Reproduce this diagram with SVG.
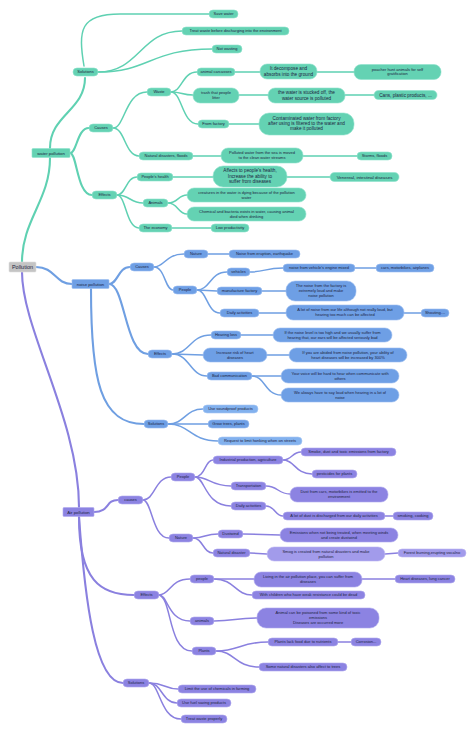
<svg xmlns="http://www.w3.org/2000/svg" width="474" height="735" viewBox="0 0 474 735">
<style>
text{font-family:"Liberation Sans",Arial,sans-serif;font-size:4px;fill:#1c2340;text-anchor:middle}
.w rect{fill:#64d2b3;stroke:#8fe3cc;stroke-width:0.6}
.n rect{fill:#6e9fe5;stroke:#9cbdf0;stroke-width:0.6}
.nl rect{fill:#82b1ee;stroke:#a8c8f3;stroke-width:0.6}
.a rect{fill:#8c83e2;stroke:#b0a9ef;stroke-width:0.6}
.al rect{fill:#a29beb;stroke:#bdb7f2;stroke-width:0.6}
.r rect{fill:#c4c4c4;stroke:#dddddd;stroke-width:0.6}
.big{font-size:4.7px}
#connectors path{fill:none;stroke-linecap:round}
.cw{stroke:#5fd1b2;stroke-width:1.5}
.cn{stroke:#6f9fe2;stroke-width:1.5}
.ca{stroke:#8a80df;stroke-width:1.5}
.t{stroke-width:2.1 !important}
</style>
<rect width="474" height="735" fill="#ffffff"/>
<g id="connectors">
<path class="cw t" d="M22,262 C22,220 50,200 50,158"/>
<path class="cn t" d="M36,267 C55,267 55,284 72,284"/>
<path class="ca t" d="M22,272 C22,330 79,420 79,507"/>
<path class="cw t" d="M70,153 C77,153 77,128 89,128"/>
<path class="cw t" d="M70,153 C77,153 77,195 92,195"/>
<path class="cw t" d="M50,148 C50,115 85,110 85,78"/>
<path class="cw" d="M84,66 C78,30 80,14 120,14 L209,14"/>
<path class="cw" d="M98,72 C140,72 140,31 182,31"/>
<path class="cw" d="M98,72 C150,72 150,49 212,49"/>
<path class="cw" d="M113,128 C125,128 125,92 147,92"/>
<path class="cw" d="M113,128 C125,128 125,156 139,156"/>
<path class="cw" d="M171,92 C182,92 182,72 197,72"/>
<path class="cw" d="M171,92 C182,92 182,95 193,95"/>
<path class="cw" d="M171,92 C182,92 182,124 198,124"/>
<path class="cw" d="M235,72 L260,72"/>
<path class="cw" d="M317,72 L354,72"/>
<path class="cw" d="M239,95 L268,95"/>
<path class="cw" d="M345,95 L374,95"/>
<path class="cw" d="M229,124 L259,124"/>
<path class="cw" d="M193,156 L221,156"/>
<path class="cw" d="M303,156 L357,156"/>
<path class="cw" d="M117,195 C126,195 126,177 137,177"/>
<path class="cw" d="M117,195 C130,195 130,203 143,203"/>
<path class="cw" d="M117,195 C126,195 126,228 139,228"/>
<path class="cw" d="M173,177 L213,177"/>
<path class="cw" d="M287,177 L330,177"/>
<path class="cw" d="M168,203 C178,203 178,195 187,195"/>
<path class="cw" d="M168,203 C178,203 178,214 187,214"/>
<path class="cw" d="M172,228 L211,228"/>
<path class="cn t" d="M109,284 C118,284 118,267 130,267"/>
<path class="cn t" d="M109,284 C125,284 125,354 148,354"/>
<path class="cn t" d="M91,289 C91,380 100,424 144,424"/>
<path class="cn" d="M154,267 C165,267 165,254 184,254"/>
<path class="cn" d="M154,267 C165,267 165,290 173,290"/>
<path class="cn" d="M208,254 L229,254"/>
<path class="cn" d="M197,290 C210,290 210,272 227,272"/>
<path class="cn" d="M197,290 L217,291"/>
<path class="cn" d="M197,290 C207,290 207,313 220,313"/>
<path class="cn" d="M250,272 C265,272 265,268 283,268"/>
<path class="cn" d="M355,268 L376,268"/>
<path class="cn" d="M262,291 L286,291"/>
<path class="cn" d="M259,313 L286,313"/>
<path class="cn" d="M404,313 L421,313"/>
<path class="cn" d="M172,354 C190,354 190,335 211,335"/>
<path class="cn" d="M172,354 L203,355"/>
<path class="cn" d="M172,354 C190,354 190,376 207,376"/>
<path class="cn" d="M241,335 L273,335"/>
<path class="cn" d="M267,355 L289,355"/>
<path class="cn" d="M252,376 L281,376"/>
<path class="cn" d="M252,376 C265,376 265,395 281,395"/>
<path class="cn" d="M168,424 C185,424 185,409 203,409"/>
<path class="cn" d="M168,424 L208,424"/>
<path class="cn" d="M168,424 C190,424 190,441 218,441"/>
<path class="ca t" d="M94,512 C110,512 105,500 118,500"/>
<path class="ca t" d="M79,517 C79,580 100,595 134,595"/>
<path class="ca t" d="M79,517 C85,600 95,683 123,683"/>
<path class="ca" d="M143,500 C155,500 155,477 171,477"/>
<path class="ca" d="M143,500 C152,500 152,538 169,538"/>
<path class="ca" d="M195,477 C205,477 205,460 213,460"/>
<path class="ca" d="M195,477 C210,477 210,486 231,486"/>
<path class="ca" d="M195,477 C205,477 205,506 231,506"/>
<path class="ca" d="M283,460 C292,460 292,452 301,452"/>
<path class="ca" d="M283,460 C295,460 295,474 312,474"/>
<path class="ca" d="M266,486 C278,486 278,494 290,494"/>
<path class="ca" d="M266,506 C275,506 275,516 283,516"/>
<path class="ca" d="M385,516 L393,516"/>
<path class="ca" d="M193,538 C205,538 205,534 218,534"/>
<path class="ca" d="M193,538 C203,538 203,553 213,553"/>
<path class="ca" d="M243,534 L280,535"/>
<path class="ca" d="M250,553 L267,554"/>
<path class="ca" d="M385,554 L398,553"/>
<path class="ca" d="M159,595 C170,595 170,579 190,579"/>
<path class="ca" d="M159,595 C168,595 168,621 190,621"/>
<path class="ca" d="M159,595 C172,598 168,651 192,651"/>
<path class="ca" d="M214,579 L254,579"/>
<path class="ca" d="M214,579 C235,579 235,595 252,595"/>
<path class="ca" d="M362,579 L395,579"/>
<path class="ca" d="M214,621 C235,621 235,618 257,618"/>
<path class="ca" d="M216,651 C240,651 240,642 268,642"/>
<path class="ca" d="M216,651 C235,651 235,667 259,667"/>
<path class="ca" d="M338,642 L351,642"/>
<path class="ca" d="M149,683 C165,683 165,689 178,689"/>
<path class="ca" d="M149,683 C162,683 162,703 177,703"/>
<path class="ca" d="M149,683 C160,683 160,719 181,719"/>
</g>

<g id="pollution" class="r"><rect x="9" y="262" width="27" height="10" rx="1"/><text x="22.5" y="268.9" style="font-size:5.5px">Pollution</text></g>

<g id="water-pollution" class="w"><rect x="32" y="148.5" width="38" height="9" rx="1"/><text x="51" y="154.5" style="font-size:4.3px">water pollution</text></g>
<g id="w-solutions" class="w"><rect x="73" y="68" width="25" height="8" rx="4"/><text x="85.5" y="73.4">Solutions</text></g>
<g id="save-water" class="w"><rect x="209" y="10" width="29" height="8" rx="4"/><text x="223.5" y="15.4">Save water</text></g>
<g id="treat-waste" class="w"><rect x="182" y="27" width="107" height="8" rx="4"/><text x="235.5" y="32.4">Treat waste before discharging into the environment</text></g>
<g id="not-wasting" class="w"><rect x="212" y="45" width="30" height="8" rx="4"/><text x="227" y="50.4">Not wasting</text></g>
<g id="w-causes" class="w"><rect x="89" y="124" width="24" height="8" rx="4"/><text x="101" y="129.4">Causes</text></g>
<g id="waste" class="w"><rect x="147" y="88" width="24" height="8" rx="4"/><text x="159" y="93.4">Waste</text></g>
<g id="animal-carcasses" class="w"><rect x="197" y="68" width="38" height="8" rx="4"/><text x="216" y="73.4">animal carcasses</text></g>
<g id="decompose" class="w"><rect x="260" y="64" width="57" height="15" rx="7"/><text x="288.5" y="70.3" class="big">It decompose and<tspan x="288.5" dy="5.2">absorbs into the ground</tspan></text></g>
<g id="poacher" class="w"><rect x="354" y="64.5" width="87" height="15" rx="7"/><text x="397.5" y="70.6">poacher hunt animals for self<tspan x="397.5" dy="4.6">gratification</tspan></text></g>
<g id="trash" class="w"><rect x="193" y="88" width="46" height="15" rx="7"/><text x="216" y="94.3">trash that people<tspan x="216" dy="4.8">litter</tspan></text></g>
<g id="stucked" class="w"><rect x="268" y="88" width="77" height="15" rx="7"/><text x="306.5" y="94.3" class="big">the water is stucked off, the<tspan x="306.5" dy="5.2">water source is polluted</tspan></text></g>
<g id="cans" class="w"><rect x="374" y="90.5" width="63" height="9" rx="4.5"/><text x="405.5" y="96.6" class="big">Cans, plastic products, ...</text></g>
<g id="from-factory" class="w"><rect x="198" y="120" width="31" height="8" rx="4"/><text x="213.5" y="125.4">From factory</text></g>
<g id="contaminated" class="w"><rect x="259" y="113" width="95" height="22" rx="10"/><text x="306.5" y="119.6" class="big">Contaminated water from factory<tspan x="306.5" dy="5.2">after using is filtered to the water and</tspan><tspan x="306.5" dy="5.2">make it polluted</tspan></text></g>
<g id="natural-disasters" class="w"><rect x="139" y="152" width="54" height="8" rx="4"/><text x="166" y="157.4">Natural disasters, floods</text></g>
<g id="polluted-sea" class="w"><rect x="221" y="148" width="82" height="15" rx="7"/><text x="262" y="154.3">Polluted water from the sea is moved<tspan x="262" dy="4.8">to the clean water streams</tspan></text></g>
<g id="storms" class="w"><rect x="357" y="152" width="35" height="8" rx="4"/><text x="374.5" y="157.4">Storms, floods</text></g>
<g id="w-effects" class="w"><rect x="92" y="191" width="25" height="8" rx="4"/><text x="104.5" y="196.4">Effects</text></g>
<g id="peoples-health" class="w"><rect x="137" y="173" width="36" height="8" rx="4"/><text x="155" y="178.4">People's health</text></g>
<g id="affects" class="w"><rect x="213" y="166" width="74" height="21" rx="10"/><text x="250" y="172.3" class="big">Affects to people's health,<tspan x="250" dy="5.3">Increase the ability to</tspan><tspan x="250" dy="5.3">suffer from diseases</tspan></text></g>
<g id="venereal" class="w"><rect x="330" y="172.5" width="69" height="9" rx="4.5"/><text x="364.5" y="178.6" style="font-size:4.4px">Venereal, intestinal diseases</text></g>
<g id="animals" class="w"><rect x="143" y="199" width="25" height="8" rx="4"/><text x="155.5" y="204.4">Animals</text></g>
<g id="creatures" class="w"><rect x="187" y="188" width="119" height="14" rx="7"/><text x="246.5" y="193.9">creatures in the water is dying because of the pollution<tspan x="246.5" dy="4.6">water</tspan></text></g>
<g id="chemical" class="w"><rect x="187" y="207" width="119" height="14" rx="7"/><text x="246.5" y="212.9">Chemical and bacteria exists in water, causing animal<tspan x="246.5" dy="4.6">died when drinking</tspan></text></g>
<g id="economy" class="w"><rect x="139" y="224" width="33" height="8" rx="4"/><text x="155.5" y="229.4">The economy</text></g>
<g id="low-productivity" class="w"><rect x="211" y="224" width="38" height="8" rx="4"/><text x="230" y="229.4">Low productivity</text></g>

<g id="noise-pollution" class="n"><rect x="72" y="279.5" width="37" height="9" rx="1"/><text x="90.5" y="285.5" style="font-size:4.3px">noise pollution</text></g>
<g id="n-causes" class="n"><rect x="130" y="263" width="24" height="8" rx="4"/><text x="142" y="268.4">Causes</text></g>
<g id="nature" class="n"><rect x="184" y="250" width="24" height="8" rx="4"/><text x="196" y="255.4">Nature</text></g>
<g id="eruption" class="n"><rect x="229" y="250" width="71" height="8" rx="4"/><text x="264.5" y="255.4">Noise from eruption, earthquake</text></g>
<g id="n-people" class="n"><rect x="173" y="286" width="24" height="8" rx="4"/><text x="185" y="291.4">People</text></g>
<g id="vehicles" class="n"><rect x="227" y="268" width="23" height="8" rx="4"/><text x="238.5" y="273.4">vehicles</text></g>
<g id="vehicle-noise" class="n"><rect x="283" y="264" width="72" height="8" rx="4"/><text x="319" y="269.4">noise from vehicle's engine mixed</text></g>
<g id="cars" class="n"><rect x="376" y="264" width="58" height="8" rx="4"/><text x="405" y="269.4">cars, motorbikes, airplanes</text></g>
<g id="manufacture" class="n"><rect x="217" y="287" width="45" height="8" rx="4"/><text x="239.5" y="292.4">manufacture factory</text></g>
<g id="factory-noise" class="n"><rect x="286" y="281" width="70" height="20" rx="9"/><text x="321" y="286.8">The noise from the factory is<tspan x="321" dy="4.9">extremely loud and make</tspan><tspan x="321" dy="4.9">noise pollution</tspan></text></g>
<g id="n-daily" class="n"><rect x="220" y="309" width="39" height="8" rx="4"/><text x="239.5" y="314.4">Daily activities</text></g>
<g id="lot-noise" class="n"><rect x="286" y="305" width="118" height="15" rx="7"/><text x="345" y="311.3">A lot of noise from our life although not really loud, but<tspan x="345" dy="4.8">hearing too much can be affected</tspan></text></g>
<g id="shouting" class="n"><rect x="421" y="309" width="28" height="8" rx="4"/><text x="435" y="314.4">Shouting....</text></g>
<g id="n-effects" class="n"><rect x="148" y="350" width="24" height="8" rx="4"/><text x="160" y="355.4">Effects</text></g>
<g id="hearing-loss" class="n"><rect x="211" y="331" width="30" height="8" rx="4"/><text x="226" y="336.4">Hearing loss</text></g>
<g id="noise-level" class="n"><rect x="273" y="328" width="119" height="14" rx="7"/><text x="332.5" y="333.9">If the noise level is too high and we usually suffer from<tspan x="332.5" dy="4.6">hearing that, our ears will be affected seriously bad</tspan></text></g>
<g id="heart-risk" class="n"><rect x="203" y="348" width="64" height="14" rx="7"/><text x="235" y="353.9">Increase risk of heart<tspan x="235" dy="4.6">diseases</tspan></text></g>
<g id="abided" class="n"><rect x="289" y="348" width="118" height="14" rx="7"/><text x="348" y="353.9">If you are abided from noise pollution, your ability of<tspan x="348" dy="4.6">heart diseases will be increased by 300%</tspan></text></g>
<g id="bad-comm" class="n"><rect x="207" y="372" width="45" height="8" rx="4"/><text x="229.5" y="377.4">Bad communication</text></g>
<g id="voice" class="n"><rect x="281" y="369" width="118" height="14" rx="7"/><text x="340" y="374.9">Your voice will be hard to hear when communicate with<tspan x="340" dy="4.6">others</tspan></text></g>
<g id="say-loud" class="n"><rect x="281" y="388" width="118" height="14" rx="7"/><text x="340" y="393.9">We always have to say loud when hearing in a lot of<tspan x="340" dy="4.6">noise</tspan></text></g>
<g id="n-solutions" class="n"><rect x="144" y="420" width="24" height="8" rx="4"/><text x="156" y="425.4">Solutions</text></g>
<g id="soundproof" class="nl"><rect x="203" y="405" width="55" height="8" rx="4"/><text x="230.5" y="410.4">Use soundproof products</text></g>
<g id="grow-trees" class="n"><rect x="208" y="420" width="41" height="8" rx="4"/><text x="228.5" y="425.4">Grow trees, plants</text></g>
<g id="honking" class="nl"><rect x="218" y="437" width="84" height="8" rx="4"/><text x="260" y="442.4">Request to limit honking when on streets</text></g>

<g id="air-pollution" class="a"><rect x="63" y="507.5" width="31" height="9" rx="1"/><text x="78.5" y="513.5" style="font-size:4.3px">Air pollution</text></g>
<g id="a-causes" class="a"><rect x="118" y="496" width="25" height="8" rx="4"/><text x="130.5" y="501.4">causes</text></g>
<g id="a-people" class="a"><rect x="171" y="473" width="24" height="8" rx="4"/><text x="183" y="478.4">People</text></g>
<g id="industrial" class="a"><rect x="213" y="456" width="70" height="8" rx="4"/><text x="248" y="461.4">Industrial production, agriculture</text></g>
<g id="smoke" class="a"><rect x="301" y="448" width="95" height="8" rx="4"/><text x="348.5" y="453.4">Smoke, dust and toxic emissions from factory</text></g>
<g id="pesticides" class="a"><rect x="312" y="470" width="45" height="8" rx="4"/><text x="334.5" y="475.4">pesticides for plants</text></g>
<g id="transportation" class="a"><rect x="231" y="482" width="35" height="8" rx="4"/><text x="248.5" y="487.4">Transportation</text></g>
<g id="dust-cars" class="a"><rect x="290" y="487" width="98" height="15" rx="7"/><text x="339" y="493.3">Dust from cars, motorbikes is emitted to the<tspan x="339" dy="4.8">environment</tspan></text></g>
<g id="a-daily" class="a"><rect x="231" y="502" width="35" height="8" rx="4"/><text x="248.5" y="507.4">Daily activities</text></g>
<g id="dust-daily" class="a"><rect x="283" y="512" width="102" height="8" rx="4"/><text x="334" y="517.4">A lot of dust is discharged from our daily activities</text></g>
<g id="smoking" class="a"><rect x="393" y="512" width="40" height="8" rx="4"/><text x="413" y="517.4">smoking, cooking</text></g>
<g id="a-nature" class="a"><rect x="169" y="534" width="24" height="8" rx="4"/><text x="181" y="539.4">Nature</text></g>
<g id="dustwind" class="a"><rect x="218" y="530" width="25" height="8" rx="4"/><text x="230.5" y="535.4">Dustwind</text></g>
<g id="emissions" class="a"><rect x="280" y="528" width="118" height="14" rx="7"/><text x="339" y="533.9">Emissions when not being treated, when meeting winds<tspan x="339" dy="4.6">and create dustwind</tspan></text></g>
<g id="natural-disaster" class="a"><rect x="213" y="549" width="37" height="8" rx="4"/><text x="231.5" y="554.4">Natural disaster</text></g>
<g id="smog" class="al"><rect x="267" y="547" width="118" height="14" rx="7"/><text x="326" y="552.9">Smog is created from natural disasters and make<tspan x="326" dy="4.6">pollution</tspan></text></g>
<g id="forest" class="al"><rect x="398" y="549" width="68" height="8" rx="4"/><text x="432" y="554.4">Forest burning,erupting vocalno</text></g>
<g id="a-effects" class="a"><rect x="134" y="591" width="25" height="8" rx="4"/><text x="146.5" y="596.4">Effects</text></g>
<g id="a-people2" class="a"><rect x="190" y="575" width="24" height="8" rx="4"/><text x="202" y="580.4">people</text></g>
<g id="living" class="a"><rect x="254" y="572" width="108" height="15" rx="7"/><text x="308" y="578.3">Living in the air pollution place, you can suffer from<tspan x="308" dy="4.8">diseases</tspan></text></g>
<g id="heart-lung" class="a"><rect x="395" y="575" width="60" height="8" rx="4"/><text x="425" y="580.4">Heart diseases, lung cancer</text></g>
<g id="children" class="a"><rect x="252" y="591" width="113" height="8" rx="4"/><text x="308.5" y="596.4">With children who have weak resistance could be dead</text></g>
<g id="a-animals" class="a"><rect x="190" y="617" width="24" height="8" rx="4"/><text x="202" y="622.4">animals</text></g>
<g id="poisoned" class="a"><rect x="257" y="608" width="122" height="20" rx="9"/><text x="318" y="613.8">Animal can be poisoned from some kind of toxic<tspan x="318" dy="4.9">emissions</tspan><tspan x="318" dy="4.9">Diseases are occurred more</tspan></text></g>
<g id="plants" class="a"><rect x="192" y="647" width="24" height="8" rx="4"/><text x="204" y="652.4">Plants</text></g>
<g id="plants-lack" class="a"><rect x="268" y="638" width="70" height="8" rx="4"/><text x="303" y="643.4">Plants lack food due to nutrients</text></g>
<g id="corrosion" class="a"><rect x="351" y="638" width="30" height="8" rx="4"/><text x="366" y="643.4">Corrosion...</text></g>
<g id="some-natural" class="a"><rect x="259" y="663" width="88" height="8" rx="4"/><text x="303" y="668.4">Some natural disasters also affect to trees</text></g>
<g id="a-solutions" class="a"><rect x="123" y="679" width="26" height="8" rx="4"/><text x="136" y="684.4">Solutions</text></g>
<g id="limit-chem" class="a"><rect x="178" y="685" width="78" height="8" rx="4"/><text x="217" y="690.4">Limit the use of chemicals in farming</text></g>
<g id="fuel" class="a"><rect x="177" y="699" width="54" height="8" rx="4"/><text x="204" y="704.4">Use fuel saving products</text></g>
<g id="treat-prop" class="a"><rect x="181" y="715" width="46" height="8" rx="4"/><text x="204" y="720.4">Treat waste properly</text></g>
</svg>
